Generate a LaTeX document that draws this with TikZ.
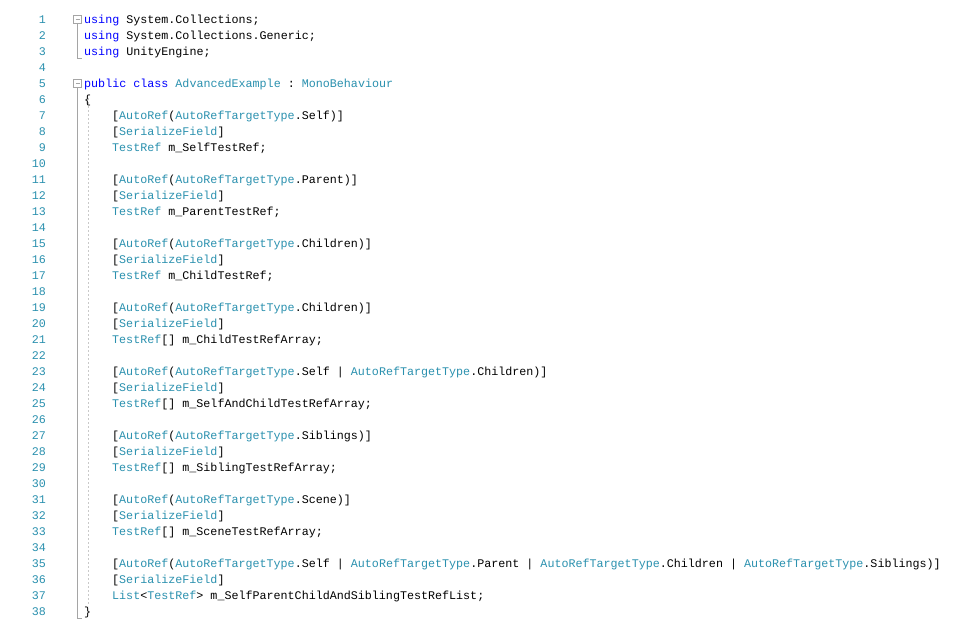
\documentclass[tikz,border=0pt]{standalone}
\usepackage{fontspec}
\setmonofont{Liberation Mono}
\definecolor{kw}{HTML}{0000FF}
\definecolor{ty}{HTML}{2B91AF}
\definecolor{fold}{HTML}{A5A5A5}
\newcommand{\kw}[1]{\textcolor{kw}{#1}}
\newcommand{\ty}[1]{\textcolor{ty}{#1}}
\newcommand{\myarf}{\ty{AutoRef}}
\newcommand{\myatt}{\ty{AutoRefTargetType}}
\newcommand{\mysfld}{[\ty{SerializeField}]}
\newcommand{\codeln}[3]{\node[code] (L#1) at ({84+7*#2},{23+16*(#1-1)}) {#3};}
\begin{document}
\begin{tikzpicture}[x=1pt,y=-1pt,
  code/.style={anchor=base west,inner sep=0pt,font=\ttfamily\fontsize{11.7}{14}\selectfont},
  num/.style={anchor=base east,inner sep=0pt,text=ty,font=\ttfamily\fontsize{11.7}{14}\selectfont},
  foldline/.style={draw=fold,line width=0.8pt}]
\useasboundingbox[fill=white] (0,0) rectangle (960,632);
\foreach \n in {1,...,38} \node[num] (n\n) at (46,{23+16*(\n-1)}) {\n};
\codeln{1}{0}{\kw{using} System.Collections;}
\codeln{2}{0}{\kw{using} System.Collections.Generic;}
\codeln{3}{0}{\kw{using} UnityEngine;}
\codeln{5}{0}{\kw{public} \kw{class} \ty{AdvancedExample} : \ty{MonoBehaviour}}
\codeln{6}{0}{\{}
\codeln{7}{4}{[\myarf(\myatt.Self)]}
\codeln{8}{4}{\mysfld}
\codeln{9}{4}{\ty{TestRef} m\_SelfTestRef;}
\codeln{11}{4}{[\myarf(\myatt.Parent)]}
\codeln{12}{4}{\mysfld}
\codeln{13}{4}{\ty{TestRef} m\_ParentTestRef;}
\codeln{15}{4}{[\myarf(\myatt.Children)]}
\codeln{16}{4}{\mysfld}
\codeln{17}{4}{\ty{TestRef} m\_ChildTestRef;}
\codeln{19}{4}{[\myarf(\myatt.Children)]}
\codeln{20}{4}{\mysfld}
\codeln{21}{4}{\ty{TestRef}[] m\_ChildTestRefArray;}
\codeln{23}{4}{[\myarf(\myatt.Self | \myatt.Children)]}
\codeln{24}{4}{\mysfld}
\codeln{25}{4}{\ty{TestRef}[] m\_SelfAndChildTestRefArray;}
\codeln{27}{4}{[\myarf(\myatt.Siblings)]}
\codeln{28}{4}{\mysfld}
\codeln{29}{4}{\ty{TestRef}[] m\_SiblingTestRefArray;}
\codeln{31}{4}{[\myarf(\myatt.Scene)]}
\codeln{32}{4}{\mysfld}
\codeln{33}{4}{\ty{TestRef}[] m\_SceneTestRefArray;}
\codeln{35}{4}{[\myarf(\myatt.Self | \myatt.Parent | \myatt.Children | \myatt.Siblings)]}
\codeln{36}{4}{\mysfld}
\codeln{37}{4}{\ty{List}<\ty{TestRef}> m\_SelfParentChildAndSiblingTestRefList;}
\codeln{38}{0}{\}}
% fold markers
\draw[foldline] (73.5,15.5) rectangle (81.5,23.5);
\draw[foldline] (75.5,19.5) -- (79.5,19.5);
\draw[foldline] (77.5,23.5) -- (77.5,58) -- (82,58);
\draw[foldline] (73.5,79.5) rectangle (81.5,87.5);
\draw[foldline] (75.5,83.5) -- (79.5,83.5);
\draw[foldline] (77.5,87.5) -- (77.5,618) -- (82,618);
\draw[fold!60,dash pattern=on 2pt off 2pt,line width=0.6pt] (88.5,98) -- (88.5,606);
\end{tikzpicture}
\end{document}
